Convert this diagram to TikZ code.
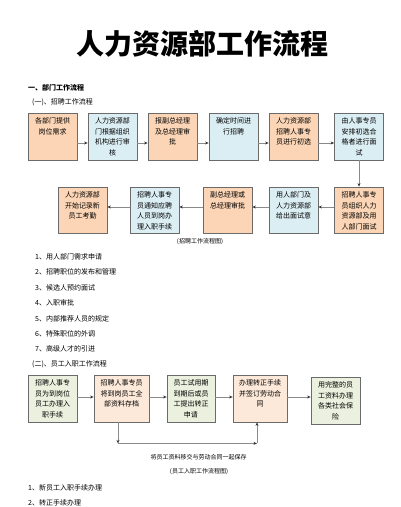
\documentclass[tikz,border=0pt]{standalone}
\usepackage{fontspec}
\setmainfont{Noto Sans CJK SC}
\usetikzlibrary{arrows.meta,calc}
\definecolor{bord}{HTML}{6B6B6B}
\definecolor{org}{HTML}{FBD5B5}
\definecolor{blu}{HTML}{DBEEF4}
\definecolor{grn}{HTML}{EBF1DE}
\definecolor{pch}{HTML}{FDE9D9}
\definecolor{lin}{HTML}{8A8A8A}
\newcommand\bxtext[3]{\parbox[c][#2pt][t]{#1pt}{\fontsize{7}{10.6}\selectfont\centering\vspace*{4.6pt}#3\par}}
\tikzset{
  bx/.style={draw=bord, line width=0.8pt, rectangle, inner sep=0pt},
  arr/.style={draw=lin, line width=0.8pt, -{Stealth[length=3.5pt,width=3pt,color=black!80]}},
  lbl/.style={inner sep=0pt, anchor=west, font=\fontsize{7}{8}\selectfont},
  capt/.style={inner sep=0pt, font=\fontsize{6}{7}\selectfont}
}
\begin{document}
\begin{tikzpicture}[x=1pt,y=-1pt]
\useasboundingbox (0,0) rectangle (400,507);
% title and headers
\node[inner sep=0pt, font=\fontsize{28}{30}\selectfont\bfseries] (title) at (202.5,43.5) {人力资源部工作流程};
\node[lbl, font=\fontsize{7}{8}\selectfont\bfseries] (h1) at (28,87.5) {一、部门工作流程};
\node[lbl] (h2) at (32,102.5) {(一)、招聘工作流程};
% row 1
\node[bx, fill=org] (b1) at (52.5,136.5) {\bxtext{49}{47}{各部门提供\\岗位需求}};
\node[bx, fill=blu] (b2) at (112.5,136.5) {\bxtext{49}{47}{人力资源部\\门根据组织\\机构进行审\\核}};
\node[bx, fill=org] (b3) at (172.5,136.5) {\bxtext{49}{47}{报副总经理\\及总经理审\\批}};
\node[bx, fill=blu] (b4) at (233.5,136.5) {\bxtext{49}{47}{确定时间进\\行招聘}};
\node[bx, fill=org] (b5) at (293.5,136.5) {\bxtext{49}{47}{人力资源部\\招聘人事专\\员进行初选}};
\node[bx, fill=blu] (b6) at (359,136.5) {\bxtext{49}{47}{由人事专员\\安排初选合\\格者进行面\\试}};
% row 2
\node[bx, fill=org] (e5) at (359,210) {\bxtext{49}{46}{招聘人事专\\员组织人力\\资源部及用\\人部门面试}};
\node[bx, fill=blu] (e4) at (293.5,210) {\bxtext{49}{46}{用人部门及\\人力资源部\\给出面试意}};
\node[bx, fill=org] (e3) at (227.5,210) {\bxtext{49}{46}{副总经理或\\总经理审批}};
\node[bx, fill=blu] (e2) at (154.5,210) {\bxtext{49}{46}{招聘人事专\\员通知应聘\\人员到岗办\\理入职手续}};
\node[bx, fill=org] (e1) at (82.5,210) {\bxtext{49}{46}{人力资源部\\开始记录新\\员工考勤}};
% arrows row 1
\foreach \a/\b in {b1/b2,b2/b3,b3/b4,b4/b5,b5/b6}
  \draw[arr] ($(\a.east)+(0,6.5)$) -- ($(\b.west |- \a.east)+(0,6.5)$);
\draw[arr] (b6.south) -- (e5.north);
\foreach \a/\b in {e5/e4,e4/e3,e3/e2,e2/e1}
  \draw[arr] ($(\a.west)+(0,-3)$) -- ($(\b.east |- \a.west)+(0,-3)$);
\node[capt] (cap1) at (200,242) {(招聘工作流程图)};
% list
\node[lbl] (l1) at (35,257) {1、用人部门需求申请};
\node[lbl] (l2) at (35,272) {2、招聘职位的发布和管理};
\node[lbl] (l3) at (35,287.5) {3、候选人预约面试};
\node[lbl] (l4) at (35,303) {4、入职审批};
\node[lbl] (l5) at (35,318.5) {5、内部推荐人员的规定};
\node[lbl] (l6) at (35,333.5) {6、特殊职位的外调};
\node[lbl] (l7) at (35,349) {7、高级人才的引进};
\node[lbl] (h3) at (32,364.5) {(二)、员工入职工作流程};
% row 3
\node[bx, fill=grn] (r1) at (52.5,398.5) {\bxtext{49}{47}{招聘人事专\\员为到岗位\\员工办理入\\职手续}};
\node[bx, fill=pch] (r2) at (121.5,398.5) {\bxtext{55}{47}{招聘人事专员\\将到岗员工全\\部资料存档}};
\node[bx, fill=grn] (r3) at (191,398.5) {\bxtext{48}{47}{员工试用期\\到期后或员\\工提出转正\\申请}};
\node[bx, fill=pch] (r4) at (260,398.5) {\bxtext{54}{47}{办理转正手续\\并签订劳动合\\同}};
\node[bx, fill=grn] (r5) at (335.5,400.5) {\bxtext{49}{47}{用完整的员\\工资料办理\\各类社会保\\险}};
\foreach \a/\b in {r1/r2,r2/r3,r3/r4,r4/r5}
  \draw[arr] ($(\a.east |- 0,397)$) -- ($(\b.west |- 0,397)$);
\coordinate (c1) at ($(r2.south)+(-3.5,21)$);
\coordinate (c2) at ($(r4.south)+(-3,21)$);
\draw[arr] ($(r2.south)+(-3.5,0)$) -- (c1);
\draw[arr] (c1) -- (c2);
\draw[arr] (c2) -- ($(r4.south)+(-3,0)$);
\node[capt] (cap2) at (198.5,457) {将员工资料移交与劳动合同一起保存};
\node[capt] (cap3) at (199,472) {(员工入职工作流程图)};
\node[lbl] (m1) at (28,488) {1、新员工入职手续办理};
\node[lbl] (m2) at (28,503) {2、转正手续办理};
\end{tikzpicture}
\end{document}
